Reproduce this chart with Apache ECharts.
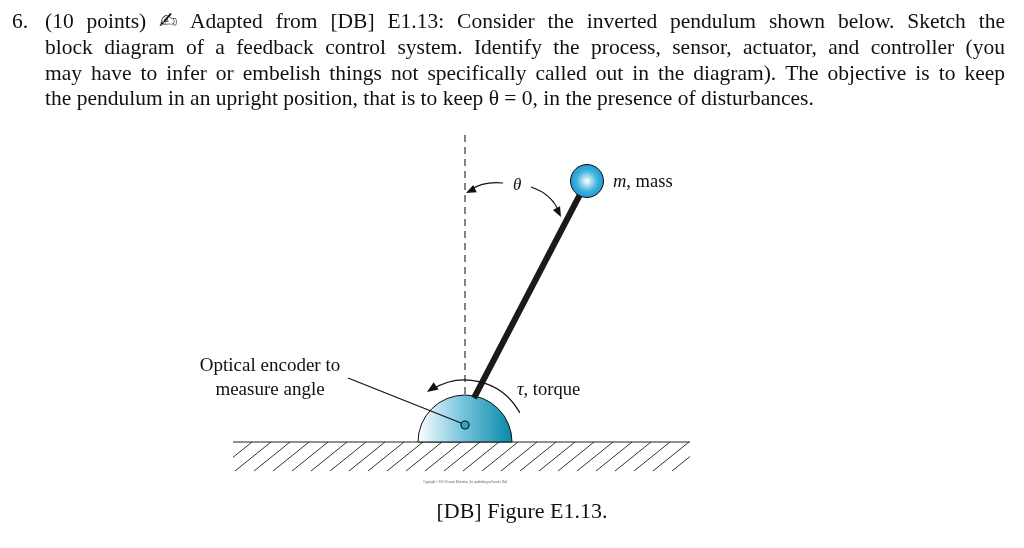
<!DOCTYPE html>
<html>
<head>
<meta charset="utf-8">
<title></title>
<script src="https://cdn.jsdelivr.net/npm/echarts@6/dist/echarts.min.js"></script>
<style>
  html, body { margin: 0; padding: 0; background: #fff; }
  #main { width: 1024px; height: 548px; }
</style>
</head>
<body>
<div id="main"></div>
<script type="text/javascript">
// header text lines (first three are justified)
var headLines = [
  '(10 points) \u270d\ufe0e Adapted from [DB] E1.13: Consider the inverted pendulum shown below. Sketch the',
  'block diagram of a feedback control system. Identify the process, sensor, actuator, and controller (you',
  'may have to infer or embelish things not specifically called out in the diagram). The objective is to keep',
  'the pendulum in an upright position, that is to keep \u03b8 = 0, in the presence of disturbances.'
];
var lineY = [22, 48, 74, 99];

// diagram geometry (page units, y down)
var pivot = [465, 442];
var baseR = 47;
var bob = [587, 181];
var bobR = 16.5;
var rodFoot = [474, 398];
var vertical = [[465, 135], [465, 426]];
var ground = [[233, 442], [690, 442]];
var hatchStarts = [233, 252, 271, 290, 309, 328, 347, 366, 385, 404, 423, 442, 461, 480, 499, 518, 537, 556, 575, 594, 613, 632, 651, 670, 689, 708, 727];
var leader = [[348, 378], [461, 423]];

var chart = echarts.init(document.getElementById('main'));

var hatchData = [];
hatchStarts.forEach(function (x) {
  var x0 = x - 36, y0 = 471, x1 = x, y1 = 442;
  if (x0 < 233) { y0 = 471 - (233 - x0) * 29 / 36; x0 = 233; }
  if (x1 > 690) { y1 = 442 + (x1 - 690) * 29 / 36; x1 = 690; }
  if (x0 < x1) hatchData.push([[x0, y0], [x1, y1]]);
});

function arrowHead(api, tip, dir, len, wid) {
  var a = api.coord(tip);
  var ux = Math.cos(dir), uy = Math.sin(dir);
  var bx = a[0] - ux * len, by = a[1] - uy * len;
  return {
    type: 'polygon',
    shape: { points: [a, [bx - uy * wid, by + ux * wid], [bx + uy * wid, by - ux * wid]] },
    style: { fill: '#111' }
  };
}

function renderDiagram(params, api) {
  var c = api.coord(pivot);
  var r = api.size([baseR, 0])[0];
  var b = api.coord(bob);
  var br = api.size([bobR, 0])[0];
  var f = api.coord(rodFoot);
  var torqueR = api.size([62, 0])[0];
  var p1 = api.coord([503, 183]), q1 = api.coord([484, 181]), e1 = api.coord([470, 190]);
  var p2 = api.coord([531, 187]), q2 = api.coord([552, 194]), e2 = api.coord([559, 212]);
  var enc = api.coord([465, 425]);
  return {
    type: 'group',
    children: [
      { type: 'sector', shape: { cx: c[0], cy: c[1], r: r, startAngle: Math.PI, endAngle: 2 * Math.PI },
        style: { stroke: '#111', lineWidth: 1,
          fill: new echarts.graphic.LinearGradient(0, 0, 1, 0, [
            { offset: 0, color: '#ffffff' }, { offset: 0.45, color: '#7cc7e0' }, { offset: 1, color: '#0688a8' }]) } },
      { type: 'line', shape: { x1: f[0], y1: f[1], x2: b[0], y2: b[1] }, style: { stroke: '#1a1a1a', lineWidth: 6 } },
      { type: 'circle', shape: { cx: b[0], cy: b[1], r: br },
        style: { stroke: '#111', lineWidth: 1,
          fill: new echarts.graphic.RadialGradient(0.5, 0.5, 0.6, [
            { offset: 0, color: '#ffffff' }, { offset: 0.5, color: '#3fb4de' }, { offset: 1, color: '#0a8cbc' }]) } },
      { type: 'circle', shape: { cx: enc[0], cy: enc[1], r: 4 }, style: { stroke: '#111', lineWidth: 1.2, fill: '#2ea6cc' } },
      { type: 'arc', shape: { cx: c[0], cy: c[1], r: torqueR, startAngle: -122 * Math.PI / 180, endAngle: -28 * Math.PI / 180, clockwise: true },
        style: { stroke: '#111', lineWidth: 1.2, fill: null } },
      arrowHead(api, [427, 392], 2.55, 11, 4.5),
      { type: 'bezierCurve', shape: { x1: p1[0], y1: p1[1], cpx1: q1[0], cpy1: q1[1], x2: e1[0], y2: e1[1] },
        style: { stroke: '#111', lineWidth: 1.2, fill: null } },
      arrowHead(api, [466, 193], Math.PI - 0.45, 10, 4),
      { type: 'bezierCurve', shape: { x1: p2[0], y1: p2[1], cpx1: q2[0], cpy1: q2[1], x2: e2[0], y2: e2[1] },
        style: { stroke: '#111', lineWidth: 1.2, fill: null } },
      arrowHead(api, [561, 217], 1.1, 10, 4)
    ]
  };
}

var serif = '"Liberation Serif", "DejaVu Serif", serif';
var headFont = '21.5px ' + serif;

function txt(x, y, s, size, align, extra) {
  var o = { type: 'text', x: x, y: y,
    style: { text: s, font: size + 'px ' + serif, fill: '#111', textAlign: align || 'left', textVerticalAlign: 'middle' } };
  if (extra) Object.assign(o.style, extra);
  return o;
}

// justify header lines word by word
var measure = document.createElement('canvas').getContext('2d');
measure.font = headFont;
var graphics = [txt(12, lineY[0], '6.', 21.5)];
headLines.forEach(function (s, i) {
  var words = s.split(' ');
  var total = 0;
  words.forEach(function (w) { total += measure.measureText(w).width; });
  var space = measure.measureText(' ').width;
  if (i < 3) space = (960 - total) / (words.length - 1);
  var x = 45;
  words.forEach(function (w) {
    graphics.push({ type: 'text', x: x, y: lineY[i], style: { text: w, font: headFont, fill: '#111', textVerticalAlign: 'middle' } });
    x += measure.measureText(w).width + space;
  });
});
var rich = { i: { fontFamily: serif, fontSize: 18.5, fontStyle: 'italic', fill: '#111' }, n: { fontFamily: serif, fontSize: 18.5, fill: '#111' } };
graphics.push(
  { type: 'text', x: 613, y: 182, style: { rich: rich, text: '{i|m}{n|, mass}', textVerticalAlign: 'middle' } },
  { type: 'text', x: 513, y: 186, style: { text: '\u03b8', font: 'italic 17px ' + serif, fill: '#111', textVerticalAlign: 'middle' } },
  { type: 'text', x: 517, y: 390, style: { rich: rich, text: '{i|\u03c4}{n|, torque}', textVerticalAlign: 'middle' } },
  txt(270, 366, 'Optical encoder to', 19, 'center'),
  txt(270, 390, 'measure angle', 19, 'center'),
  txt(465, 482, 'Copyright \u00a9 2011 Pearson Education, Inc. publishing as Prentice Hall', 3, 'center', { fill: '#555' }),
  txt(522, 512, '[DB] Figure E1.13.', 22, 'center')
);

var option = {
  animation: false,
  grid: { left: 0, right: 0, top: 0, bottom: 0 },
  xAxis: { type: 'value', min: 0, max: 1024, show: false },
  yAxis: { type: 'value', min: 0, max: 548, inverse: true, show: false },
  graphic: graphics,
  series: [
    { type: 'custom', renderItem: renderDiagram, data: [[pivot[0], pivot[1]]], z: 3 },
    { type: 'line', data: vertical, symbol: 'none', lineStyle: { color: '#333', width: 1.2, type: [7, 5] }, z: 2 },
    { type: 'line', data: ground, symbol: 'none', lineStyle: { color: '#222', width: 1.2 }, z: 2 },
    { type: 'line', data: leader, symbol: 'none', lineStyle: { color: '#111', width: 1.2 }, z: 4 }
  ].concat(hatchData.map(function (h) {
    return { type: 'line', data: h, symbol: 'none', lineStyle: { color: '#333', width: 1 }, z: 1 };
  }))
};
chart.setOption(option);
</script>
</body>
</html>
